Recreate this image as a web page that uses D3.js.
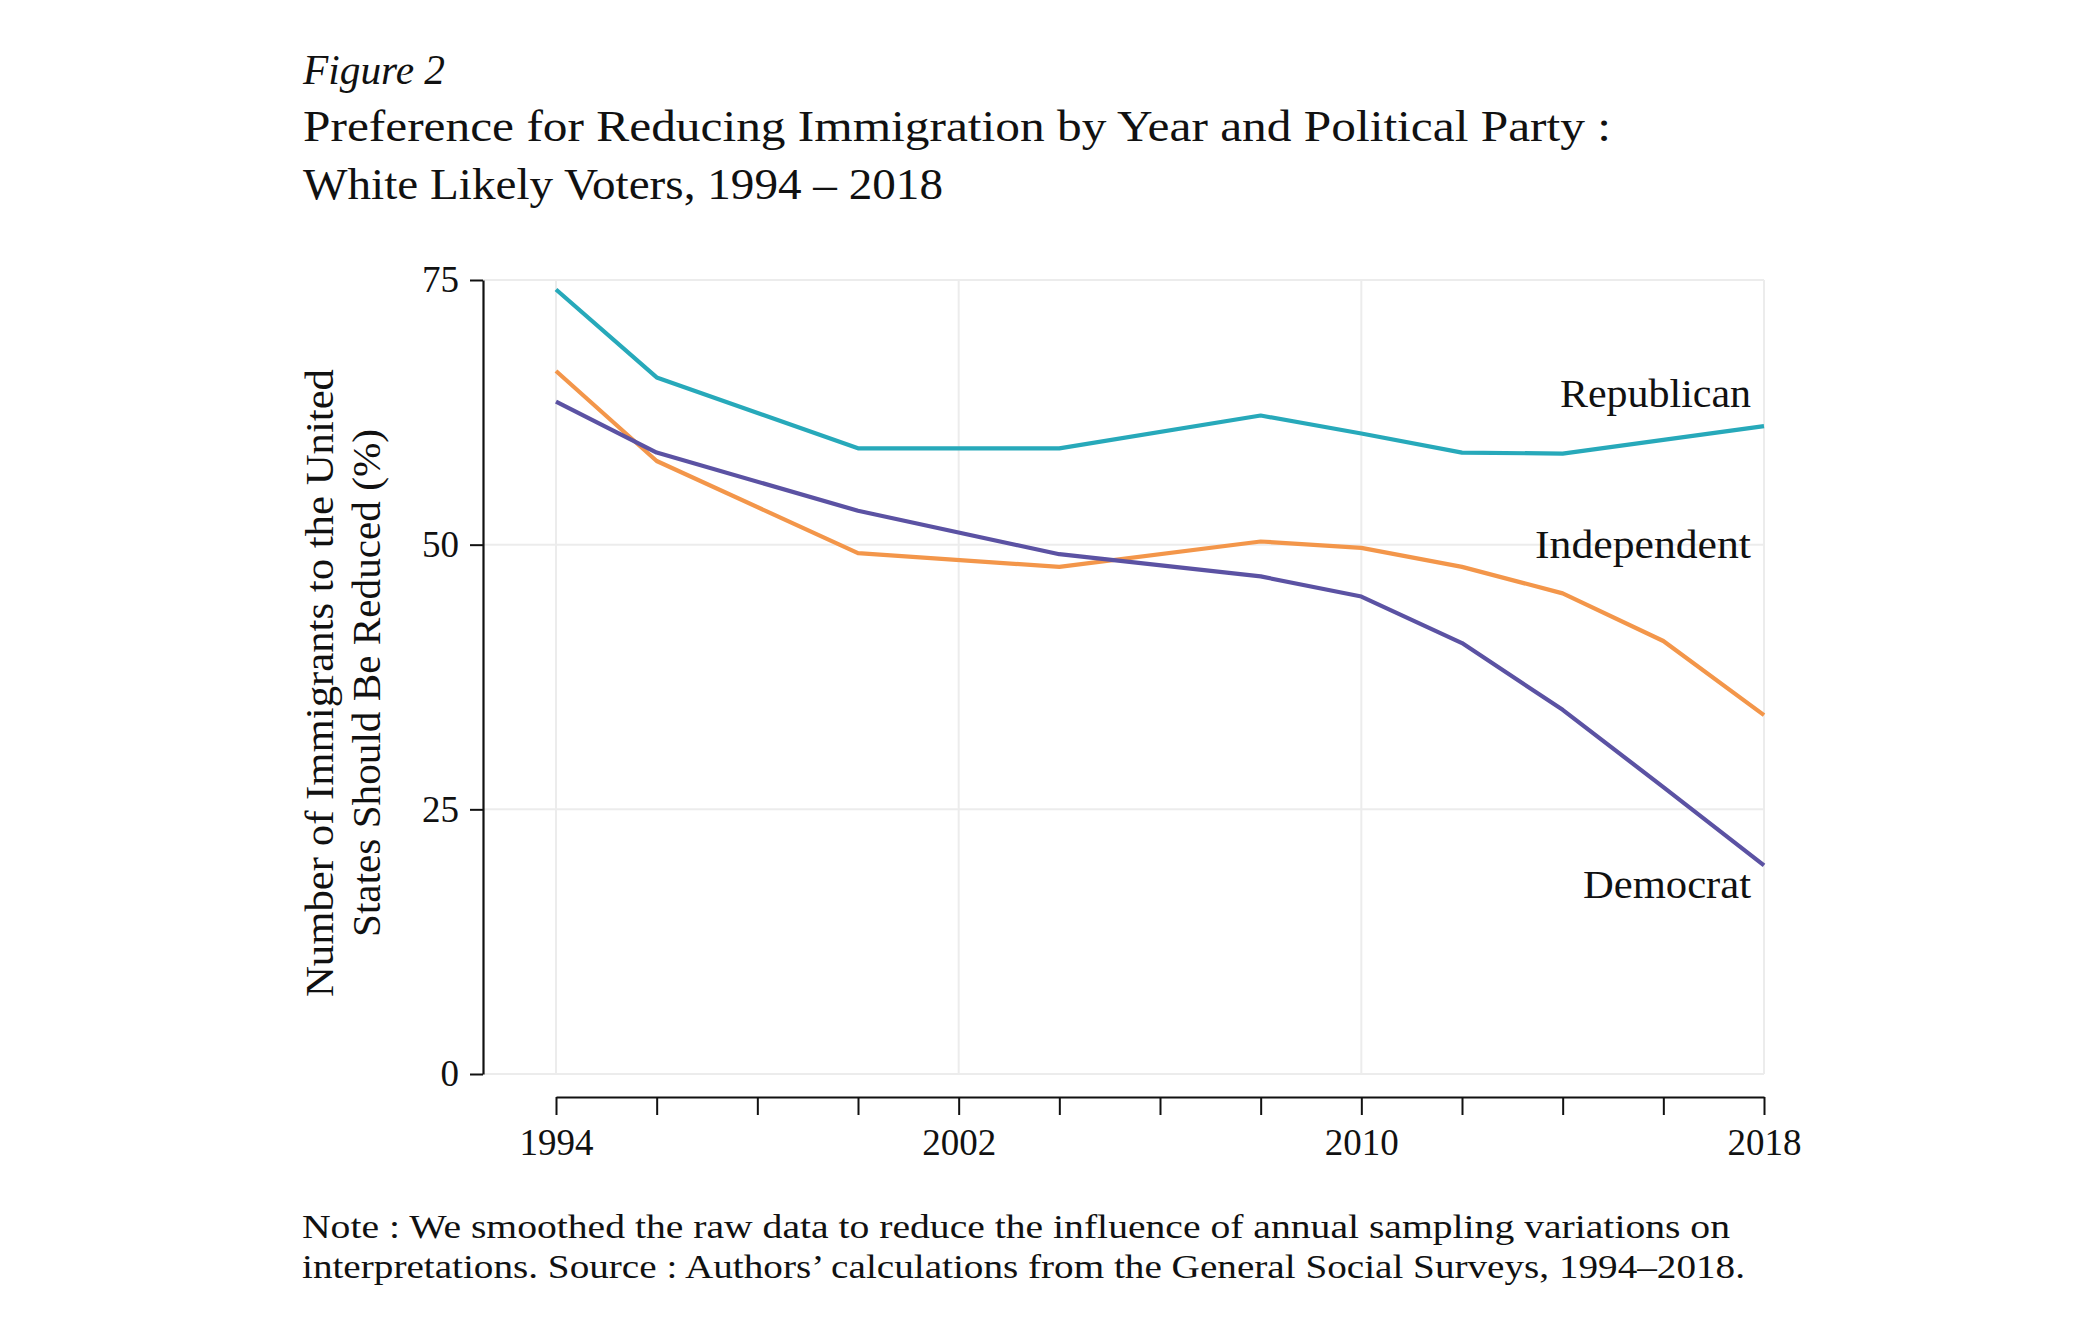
<!DOCTYPE html>
<html>
<head>
<meta charset="utf-8">
<script src="https://cdn.jsdelivr.net/npm/d3@7"></script>
<style>
  body { margin: 0; background: #fff; }
  text { font-family: "Liberation Serif", "DejaVu Serif", serif; fill: #111; }
</style>
</head>
<body>
<div id="chart"></div>
<script>
// smoothed values
const years = [1994, 1996, 2000, 2004, 2008, 2010, 2012, 2014, 2016, 2018];
const republican = [74.1, 65.8, 59.1, 59.1, 62.2, 60.5, 58.7, 58.6, 59.9, 61.2];
const independent = [66.4, 57.9, 49.2, 47.9, 50.3, 49.7, 47.9, 45.4, 40.9, 33.9];
const democrat = [63.5, 58.7, 53.2, 49.1, 47.0, 45.1, 40.7, 34.4, 27.1, 19.7];

const parties = ["Republican", "Independent", "Democrat"];
const yTicks = [0, 25, 50, 75];
const xTicks = [1994, 1996, 1998, 2000, 2002, 2004, 2006, 2008, 2010, 2012, 2014, 2016, 2018];
const xLabels = [1994, 2002, 2010, 2018];

const titleLines = ["Preference for Reducing Immigration by Year and Political Party :",
                    "White Likely Voters, 1994 \u2013 2018"];
const yTitleLines = ["Number of Immigrants to the United", "States Should Be Reduced (%)"];
const noteLines = ["Note : We smoothed the raw data to reduce the influence of annual sampling variations on",
                   "interpretations. Source : Authors\u2019 calculations from the General Social Surveys, 1994\u20132018."];

var width = 2100, height = 1334;

const svg = d3.select("#chart").append("svg")
  .attr("width", width)
  .attr("height", height);

const x = d3.scaleLinear().domain([1994, 2018]).range([556, 1764]);
const y = d3.scaleLinear().domain([0, 75]).range([1074, 280]);
const color = d3.scaleOrdinal().domain(parties).range(["#27a9ba", "#f3964a", "#5b52a3"]);

// the original face is wider than Liberation Serif, so stretch glyphs a bit to the measured width
function fitText(sel, len) {
  sel.attr("textLength", len).attr("lengthAdjust", "spacingAndGlyphs");
}

// title block
svg.append("text")
  .attr("x", 303).attr("y", 84)
  .style("font-size", "42px").style("font-style", "italic")
  .call(fitText, 142)
  .text("Figure 2");

const titleLen = [1308, 640];
titleLines.forEach((t, i) => {
  svg.append("text")
    .attr("x", 303).attr("y", 141 + i * 58)
    .style("font-size", "44px")
    .call(fitText, titleLen[i])
    .text(t);
});

// grid
const grid = svg.append("g").attr("class", "grid")
  .attr("stroke", "#ececec").attr("stroke-width", 2);

grid.selectAll("line.h").data(yTicks).enter().append("line")
  .attr("class", "h")
  .attr("x1", x(1994) - 73).attr("x2", x(2018))
  .attr("y1", d => y(d)).attr("y2", d => y(d));

grid.selectAll("line.v").data(xLabels).enter().append("line")
  .attr("class", "v")
  .attr("x1", d => x(d)).attr("x2", d => x(d))
  .attr("y1", y(75)).attr("y2", y(0));

// y axis
const yAxis = svg.append("g")
  .attr("transform", "translate(483,0)")
  .call(d3.axisLeft(y).tickValues(yTicks).tickSize(13).tickSizeOuter(0).tickPadding(11));

// x axis sits a little below the zero line
const xAxis = svg.append("g")
  .attr("transform", "translate(0,1097)")
  .call(d3.axisBottom(x).tickValues(xTicks).tickSize(18).tickSizeOuter(0).tickPadding(14)
    .tickFormat(d => xLabels.includes(d) ? d : ""));

[yAxis, xAxis].forEach(a => {
  a.select(".domain").attr("stroke", "#111").attr("stroke-width", 2.2);
  a.selectAll(".tick line").attr("stroke", "#111").attr("stroke-width", 2);
  a.selectAll(".tick text").attr("fill", "#111")
    .style("font-family", '"Liberation Serif", serif').style("font-size", "37px");
});
xAxis.selectAll(".tick text").attr("dy", "0.71em");

// y axis title, rotated
const yTitle = svg.append("g").attr("transform", "translate(333,683) rotate(-90)");
const yTitleLen = [628, 508];
yTitleLines.forEach((t, i) => {
  yTitle.append("text")
    .attr("x", 0).attr("y", i * 47)
    .attr("text-anchor", "middle")
    .style("font-size", "41px")
    .call(fitText, yTitleLen[i])
    .text(t);
});

// lines
const series = [
  { name: "Republican", values: republican },
  { name: "Independent", values: independent },
  { name: "Democrat", values: democrat }
];

const line = d3.line()
  .x((d, i) => x(years[i]))
  .y(d => y(d));

svg.append("g").selectAll("path")
  .data(series).enter().append("path")
  .attr("fill", "none")
  .attr("stroke", d => color(d.name))
  .attr("stroke-width", 4.2)
  .attr("stroke-linejoin", "round")
  .attr("d", d => line(d.values));

// direct labels at right end
const labelY = { Republican: 407, Independent: 558, Democrat: 898 };
const labelLen = { Republican: 191, Independent: 216, Democrat: 168 };
svg.append("g").selectAll("text")
  .data(series).enter().append("text")
  .attr("x", 1751)
  .attr("y", d => labelY[d.name])
  .attr("text-anchor", "end")
  .style("font-size", "40px")
  .attr("textLength", d => labelLen[d.name]).attr("lengthAdjust", "spacingAndGlyphs")
  .text(d => d.name);

// note
const noteLen = [1428, 1443];
noteLines.forEach((t, i) => {
  svg.append("text")
    .attr("x", 302).attr("y", 1238 + i * 40)
    .style("font-size", "34px")
    .call(fitText, noteLen[i])
    .text(t);
});
</script>
</body>
</html>
